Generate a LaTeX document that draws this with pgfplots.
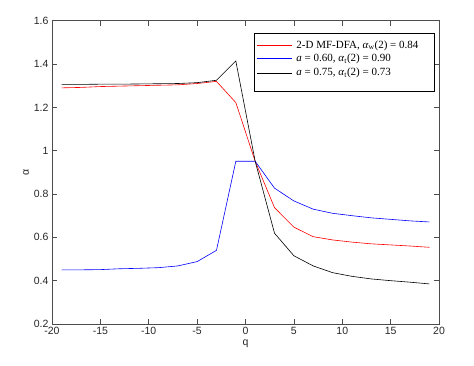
\documentclass[border=0pt]{standalone}
\usepackage{fontspec}
\setmainfont{Liberation Sans}
\newfontfamily\serif{Liberation Serif}
\usepackage{pgfplots}
\pgfplotsset{compat=1.18}
\begin{document}
\begin{tikzpicture}
\begin{axis}[
  scale only axis,
  width=387pt, height=303.3pt,
  xmin=-20, xmax=20, ymin=0.2, ymax=1.6,
  xtick={-20,-15,...,20},
  ytick={0.2,0.4,...,1.6},
  tick align=inside,
  major tick length=5pt,
  tick style={black!70, line width=0.6pt},
  axis line style={black!70, line width=0.6pt},
  /pgf/number format/assume math mode=true,
  ticklabel style={font=\fontsize{10.5}{12}\selectfont, text=black!85},
  yticklabel style={/pgf/number format/fixed, /pgf/number format/precision=1},
  xlabel={q}, ylabel={α},
  label style={font=\fontsize{10.5}{12}\selectfont, text=black!85},
  xlabel style={yshift=2pt},
  ylabel style={yshift=-2pt},
]
\draw[black, line width=0.6pt, fill=white] (axis cs:0.88,1.272) rectangle (axis cs:19.48,1.542);
\node[anchor=west, inner sep=0pt, font=\serif\fontsize{11}{13}\selectfont] at (axis cs:5.25,1.486) {2-D MF-DFA, \textit{α}\textsubscript{w}(2) = 0.84};
\node[anchor=west, inner sep=0pt, font=\serif\fontsize{11}{13}\selectfont] at (axis cs:5.25,1.424) {\textit{a} = 0.60, \textit{α}\textsubscript{t}(2) = 0.90};
\node[anchor=west, inner sep=0pt, font=\serif\fontsize{11}{13}\selectfont] at (axis cs:5.25,1.359) {\textit{a} = 0.75, \textit{α}\textsubscript{t}(2) = 0.73};
\addplot[color=red, line width=0.6pt] coordinates {
(-19,1.290) (-17,1.292) (-15,1.296) (-13,1.298) (-11,1.300) (-9,1.302) (-7,1.304) (-5,1.310) (-3,1.320) (-1,1.222) (1,0.951)
(3,0.737) (5,0.647) (7,0.603) (9,0.588) (11,0.578) (13,0.570) (15,0.565) (17,0.560) (19,0.554)};
\addplot[color=red, line width=0.7pt, forget plot] coordinates {(1.19,1.486) (3.0,1.486) (4.81,1.486)};
\addplot[color=blue, line width=0.6pt] coordinates {
(-19,0.450) (-17,0.450) (-15,0.451) (-13,0.455) (-11,0.457) (-9,0.460) (-7,0.468) (-5,0.488) (-3,0.540) (-1,0.951) (1,0.951)
(3,0.827) (5,0.768) (7,0.730) (9,0.711) (11,0.700) (13,0.690) (15,0.683) (17,0.676) (19,0.671)};
\addplot[color=blue, line width=0.7pt, forget plot] coordinates {(1.19,1.424) (3.0,1.424) (4.81,1.424)};
\addplot[color=black, line width=0.6pt] coordinates {
(-19,1.306) (-17,1.306) (-15,1.307) (-13,1.307) (-11,1.308) (-9,1.309) (-7,1.310) (-5,1.314) (-3,1.325) (-1,1.414) (1,0.951)
(3,0.619) (5,0.515) (7,0.468) (9,0.437) (11,0.420) (13,0.408) (15,0.400) (17,0.393) (19,0.385)};
\addplot[color=black, line width=0.7pt, forget plot] coordinates {(1.19,1.359) (3.0,1.359) (4.81,1.359)};
\end{axis}
\path ([shift={(-52pt,-42pt)}]current axis.south west) rectangle ([shift={(35pt,20.7pt)}]current axis.north east);
\end{tikzpicture}
\end{document}
